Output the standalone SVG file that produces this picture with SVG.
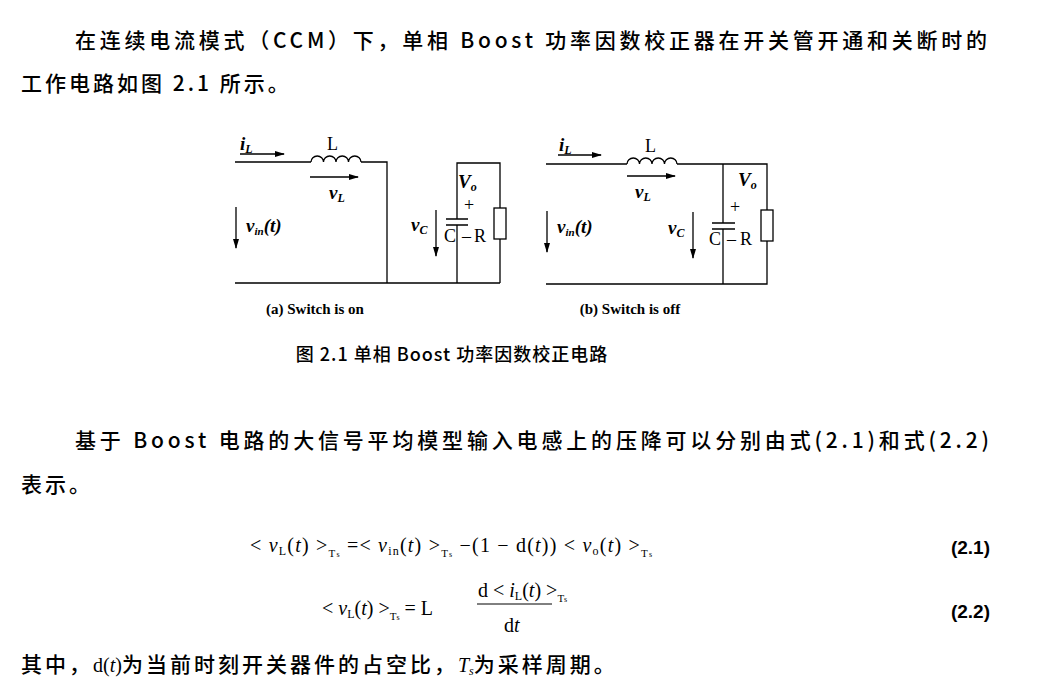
<svg xmlns="http://www.w3.org/2000/svg" width="1062" height="700" viewBox="0 0 1062 700">
<defs>
<marker id="ah" markerWidth="10" markerHeight="6" refX="9" refY="3" orient="auto" markerUnits="userSpaceOnUse"><path d="M0,0 L10,3 L0,6 z" fill="#000"/></marker>
</defs>
<style>
.cn{font-family:"Noto Sans CJK SC","Liberation Sans",sans-serif;font-size:21px;fill:#000;font-weight:500;letter-spacing:3px}
.ls0{letter-spacing:0}
.fig{font-size:18px;letter-spacing:1px}
.w{stroke:#000;stroke-width:1.3;fill:none}
.ar{stroke:#000;stroke-width:1.3;fill:none;marker-end:url(#ah)}
.t{font-family:"Liberation Serif",serif;fill:#000}
.it{font-family:"Liberation Serif",serif;font-style:italic;fill:#000}
.b{font-family:"Liberation Sans",sans-serif;font-size:19px;fill:#000;font-weight:bold}
.cap{font-family:"Liberation Serif",serif;font-size:15px;font-weight:bold;fill:#000}
</style>
<rect width="1062" height="700" fill="#fff"/>
<text class="cn" x="75" y="48" textLength="915">在连续电流模式（CCM）下，单相 Boost 功率因数校正器在开关管开通和关断时的</text>
<text class="cn" x="21" y="91">工作电路如图 2.1 所示。</text>

<g id="circuitA">
<path class="w" d="M235,162 H311 M361,162 H387 V283 M235,283 H500 M457,283 V225 M457,219 V163 H500 V208 M500,239 V283"/>
<path class="w" d="M311,162 a6.25,6 0 0 1 12.5,0 a6.25,6 0 0 1 12.5,0 a6.25,6 0 0 1 12.5,0 a6.25,6 0 0 1 12.5,0"/>
<rect class="w" x="494" y="208" width="12" height="31"/>
<path class="w" d="M446,219 H468 M446,225 H468"/>
<path class="ar" d="M240,154 H284"/>
<path class="ar" d="M310,177 H358"/>
<path class="ar" d="M236,207 V248"/>
<path class="ar" d="M436,210 V256"/>
<text class="it" x="240" y="150" font-size="19" font-weight="bold">i<tspan font-size="12" dy="3">L</tspan></text>
<text class="t" x="327" y="150" font-size="18">L</text>
<text class="it" x="329" y="199" font-size="19" font-weight="bold">v<tspan font-size="12" dy="3">L</tspan></text>
<text class="it" x="246" y="232" font-size="19" font-weight="bold">v<tspan font-size="11" dy="3">in</tspan><tspan dy="-3">(t)</tspan></text>
<text class="it" x="458" y="188" font-size="19" font-weight="bold">V<tspan font-size="12" dy="3">o</tspan></text>
<text class="t" x="464" y="211" font-size="18">+</text>
<text class="it" x="411" y="231" font-size="19" font-weight="bold">v<tspan font-size="12" dy="3">C</tspan></text>
<text class="t" x="444" y="242" font-size="18">C</text>
<text class="t" x="462" y="242" font-size="18">–</text>
<text class="t" x="474" y="242" font-size="18">R</text>
<text class="cap" x="315" y="314" text-anchor="middle">(a) Switch is on</text>
</g>

<g id="circuitB">
<path class="w" d="M546,164 H627 M677,164 H767 V210 M767,241 V284 H546 M723,164 V223 M723,229 V284"/>
<path class="w" d="M627,164 a6.25,6 0 0 1 12.5,0 a6.25,6 0 0 1 12.5,0 a6.25,6 0 0 1 12.5,0 a6.25,6 0 0 1 12.5,0"/>
<rect class="w" x="761" y="210" width="12" height="31"/>
<path class="w" d="M712,223 H735 M712,229 H735"/>
<path class="ar" d="M558,155 H601"/>
<path class="ar" d="M627,176 H675"/>
<path class="ar" d="M547,211 V252"/>
<path class="ar" d="M693,212 V258"/>
<text class="it" x="559" y="151" font-size="19" font-weight="bold">i<tspan font-size="12" dy="3">L</tspan></text>
<text class="t" x="645" y="152" font-size="18">L</text>
<text class="it" x="635" y="198" font-size="19" font-weight="bold">v<tspan font-size="12" dy="3">L</tspan></text>
<text class="it" x="557" y="233" font-size="19" font-weight="bold">v<tspan font-size="11" dy="3">in</tspan><tspan dy="-3">(t)</tspan></text>
<text class="it" x="738" y="186" font-size="19" font-weight="bold">V<tspan font-size="12" dy="3">o</tspan></text>
<text class="t" x="730" y="213" font-size="18">+</text>
<text class="it" x="668" y="234" font-size="19" font-weight="bold">v<tspan font-size="12" dy="3">C</tspan></text>
<text class="t" x="709" y="245" font-size="18">C</text>
<text class="t" x="727" y="245" font-size="18">–</text>
<text class="t" x="740" y="245" font-size="18">R</text>
<text class="cap" x="630" y="314" text-anchor="middle">(b) Switch is off</text>
</g>

<text class="cn fig" x="452" y="361" text-anchor="middle">图 2.1 单相 Boost 功率因数校正电路</text>

<text class="cn" x="75" y="448" textLength="917">基于 Boost 电路的大信号平均模型输入电感上的压降可以分别由式(2.1)和式(2.2)</text>
<text class="cn" x="21" y="492">表示。</text>

<text class="t" x="250" y="552" font-size="20" textLength="402">&lt; <tspan class="it">v</tspan><tspan font-size="12" dy="3">L</tspan><tspan dy="-3">(</tspan><tspan class="it">t</tspan>) &gt;<tspan font-size="11" dy="5">T<tspan font-size="8">s</tspan></tspan><tspan dy="-5"> =&lt; </tspan><tspan class="it">v</tspan><tspan font-size="12" dy="3">in</tspan><tspan dy="-3">(</tspan><tspan class="it">t</tspan>) &gt;<tspan font-size="11" dy="5">T<tspan font-size="8">s</tspan></tspan><tspan dy="-5">  −(1 − d(</tspan><tspan class="it">t</tspan>)) &lt; <tspan class="it">v</tspan><tspan font-size="12" dy="3">o</tspan><tspan dy="-3">(</tspan><tspan class="it">t</tspan>) &gt;<tspan font-size="11" dy="5">T<tspan font-size="8">s</tspan></tspan></text>
<text class="b" x="990" y="554" text-anchor="end">(2.1)</text>

<text class="t" x="322" y="615" font-size="20">&lt; <tspan class="it">v</tspan><tspan font-size="12" dy="3">L</tspan><tspan dy="-3">(</tspan><tspan class="it">t</tspan>) &gt;<tspan font-size="11" dy="5">T<tspan font-size="8">s</tspan></tspan><tspan dy="-5"> = L</tspan></text>
<text class="t" x="478" y="597" font-size="20">d &lt; <tspan class="it">i</tspan><tspan font-size="12" dy="3">L</tspan><tspan dy="-3">(</tspan><tspan class="it">t</tspan>) &gt;<tspan font-size="11" dy="5">T<tspan font-size="8">s</tspan></tspan></text>
<line x1="477" y1="604" x2="552" y2="604" stroke="#000" stroke-width="1"/>
<text class="t" x="504" y="632" font-size="20">d<tspan class="it">t</tspan></text>
<text class="b" x="990" y="618" text-anchor="end">(2.2)</text>

<text class="cn" x="21" y="672">其中，<tspan class="ls0" font-family="Liberation Serif" font-size="20">d(<tspan font-style="italic">t</tspan>)</tspan>为当前时刻开关器件的占空比，<tspan class="ls0" font-family="Liberation Serif" font-style="italic" font-size="20">T<tspan font-size="12" dy="3">s</tspan></tspan><tspan dy="-3">为采样周期。</tspan></text>
</svg>
